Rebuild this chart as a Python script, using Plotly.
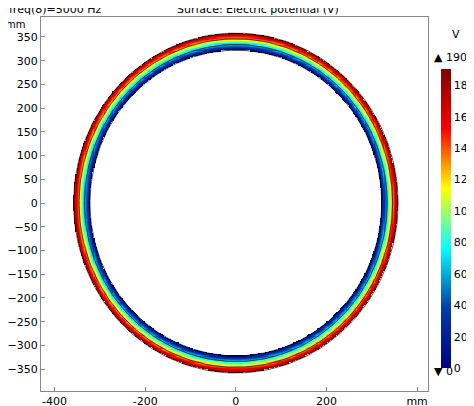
import numpy as np
import plotly.graph_objects as go

r_inner = 322.0
r_outer = 358.0
v_min = 0.0
v_max = 190.0
cb_ticks = [0, 20, 40, 60, 80, 100, 120, 140, 160, 180]
x_ticks = [-400, -200, 0, 200, 400]
x_tick_text = ["-400", "-200", "0", "200", "mm"]
y_ticks = [-350, -300, -250, -200, -150, -100, -50, 0, 50, 100, 150, 200, 250, 300, 350]

g = np.round(np.linspace(-370, 370, 300), 2)
X, Y = np.meshgrid(g, g)
R = np.hypot(X, Y)
Z = v_min + (R - r_inner) / (r_outer - r_inner) * (v_max - v_min)
Z = np.round(Z, 1)
Z[(R < r_inner) | (R > r_outer)] = np.nan
Zl = [[None if np.isnan(v) else float(v) for v in row] for row in Z]

fig = go.Figure()
fig.add_trace(go.Heatmap(x=g.tolist(), y=g.tolist(), z=Zl, colorscale="Jet", zmin=v_min, zmax=v_max,
    colorbar=dict(x=1.034, xanchor="left", xpad=0, ypad=0, y=0.46, yanchor="middle", len=0.8, thickness=10,
                  tickvals=cb_ticks, outlinecolor="black", outlinewidth=0,
                  tickfont=dict(size=11, color="black"), ticks="", ticklen=0)))
th = np.linspace(0, 2*np.pi, 200)
for rr in [r_inner, r_inner + 12, r_inner + 24, r_outer]:
    fig.add_trace(go.Scatter(x=(rr*np.cos(th)).round(2).tolist(), y=(rr*np.sin(th)).round(2).tolist(), mode="lines",
                             line=dict(color="black", width=0.7), showlegend=False, hoverinfo="skip"))

fig.update_layout(width=466, height=398, margin=dict(l=33, r=46, t=9, b=15, autoexpand=False), plot_bgcolor="white", paper_bgcolor="white",
    font=dict(family="DejaVu Sans", size=11, color="black"), showlegend=False,
    xaxis=dict(automargin=False, range=[-430, 424], tickvals=x_ticks, ticktext=x_tick_text, showgrid=False, zeroline=False, showline=True, linecolor="#888", mirror=True, ticks="inside", ticklen=4, tickcolor="#888"),
    yaxis=dict(automargin=False, range=[-396, 392], tickvals=y_ticks, showgrid=False, zeroline=False, showline=True, linecolor="#888", mirror=True, ticks="inside", ticklen=4, tickcolor="#888"),
    annotations=[
        dict(text="freq(8)=5000 Hz", x=0.0, y=1.0, xref="paper", yref="paper", xanchor="left", yanchor="bottom", showarrow=False, font=dict(size=11), xshift=-34, yshift=-1),
        dict(text="Surface: Electric potential (V)", x=0.56, y=1.0, xref="paper", yref="paper", xanchor="center", yanchor="bottom", showarrow=False, font=dict(size=11), yshift=-1),
        dict(text="mm", x=0, y=1.0, xref="paper", yref="paper", xanchor="right", yanchor="top", showarrow=False, font=dict(size=10), xshift=-14, yshift=0),
        dict(text="V", x=1.0, y=0.975, xref="paper", yref="paper", xanchor="left", showarrow=False, font=dict(size=11), xshift=22),
        dict(text="▲ 190", x=1.0, y=0.915, xref="paper", yref="paper", xanchor="left", showarrow=False, font=dict(size=11), xshift=4),
        dict(text="▼ 0", x=1.0, y=0.03, xref="paper", yref="paper", xanchor="left", showarrow=False, font=dict(size=11), xshift=4),
    ])
fig.write_html("out.html")
